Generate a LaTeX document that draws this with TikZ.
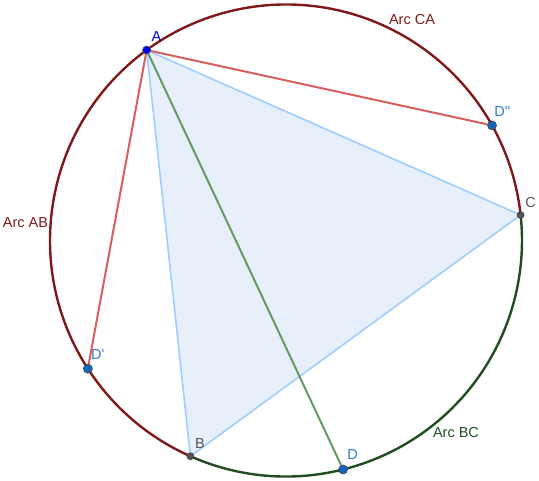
\documentclass[tikz,border=0pt]{standalone}
\usepackage{fontspec}
\setmainfont{Liberation Sans}
\usetikzlibrary{calc,backgrounds}
\definecolor{arcred}{RGB}{128,26,26}
\definecolor{arcgreen}{RGB}{33,77,33}
\definecolor{segred}{RGB}{217,95,95}
\definecolor{seggreen}{RGB}{100,155,100}
\definecolor{triblue}{RGB}{160,205,255}
\definecolor{trifill}{RGB}{230,239,250}
\definecolor{ptblue}{RGB}{21,101,192}
\definecolor{lblblue}{RGB}{50,120,210}
\definecolor{ptgray}{RGB}{85,85,85}
\begin{document}
\begin{tikzpicture}
[x=1pt,y=1pt,
every label/.append style={font=\fontsize{14.5}{17}\selectfont,inner sep=0pt,anchor=center,label distance=12.5pt},
pt/.style={circle,draw=black!75,line width=0.6pt,inner sep=0pt,minimum size=#1},
arclabel/.style={font=\fontsize{14.5}{17}\selectfont,inner sep=0pt}]
\useasboundingbox (0,0) rectangle (539,481);
\coordinate (O) at (286,240.5); % centre
% points on the circle
\node[pt=8pt,fill=blue,label={[text=blue]54:A}] (A) at ($(O)+(126.2:236)$) {};
\node[pt=7pt,fill=ptgray,label={[text=ptgray]54:B}] (B) at ($(O)+(246.1:236)$) {};
\node[pt=7pt,fill=ptgray,label={[text=ptgray]52:C}] (C) at ($(O)+(6.2:236)$) {};
\node[pt=9pt,fill=ptblue,label={[text=lblblue]57:D}] (D) at ($(O)+(284:236)$) {};
\node[pt=9pt,fill=ptblue,label={[text=lblblue]55:D\textquotesingle}] (D1) at ($(O)+(212.9:236)$) {};
\node[pt=9pt,fill=ptblue,label={[text=lblblue]53:D\textquotesingle\textquotesingle}] (D2) at ($(O)+(29.2:236)$) {};
\begin{scope}[on background layer]
\filldraw[fill=trifill,draw=triblue,line width=1.6pt,line join=round]
  (A.center) -- (B.center) -- (C.center) -- cycle;
\draw[segred,line width=2pt] (A) -- (D2);
\draw[segred,line width=2pt] (A) -- (D1);
\draw[seggreen,line width=2pt] (A) -- (D);
\draw[arcred,line width=2.4pt] (C.center) arc[start angle=6.2,end angle=126.2,radius=236pt];
\draw[arcred,line width=2.4pt] (A.center) arc[start angle=126.2,end angle=246.1,radius=236pt];
\draw[arcgreen,line width=2.4pt] (B.center) arc[start angle=246.1,end angle=366.2,radius=236pt];
\end{scope}
% arc names
\node[arclabel,text=arcred] (nCA) at (412,461.5) {Arc CA};
\node[arclabel,text=arcred] (nAB) at (25.5,258) {Arc AB};
\node[arclabel,text=arcgreen] (nBC) at (456,48) {Arc BC};
\end{tikzpicture}
\end{document}
